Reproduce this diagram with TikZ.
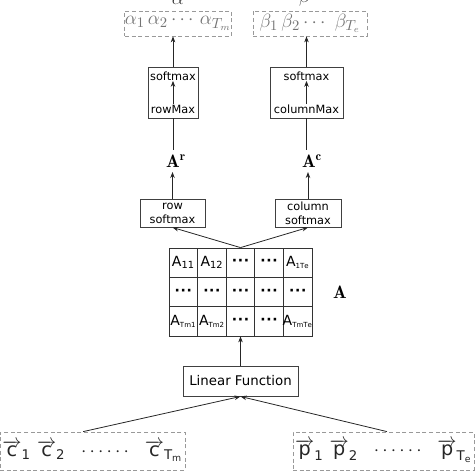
\documentclass[tikz,border=0pt]{standalone}
\usepackage{fontspec}
\setsansfont{DejaVu Sans}
\usetikzlibrary{arrows.meta}
\newcommand{\mdots}{{\sffamily\bfseries\char"B7\kern0.5pt\char"B7\kern0.5pt\char"B7}}
\begin{document}
\begin{tikzpicture}[x=0.75pt,y=-0.75pt,
  box/.style={draw=black!75,line width=0.7pt,inner sep=0pt,align=center,
    font=\sffamily\fontsize{8.5}{10.5}\selectfont},
  dbox/.style={draw=black!40,densely dashed,line width=0.6pt,inner sep=0pt},
  arr/.style={-{Stealth[length=4.5pt,width=3.4pt]},draw=black!85,line width=0.6pt},
  cell/.style={inner sep=0pt,font=\fontsize{10.5}{12}\selectfont},
  big/.style={font=\fontsize{13.5}{15}\selectfont}]
\useasboundingbox (0,0) rectangle (474,474);
%
% inputs
\node[dbox,minimum width=138.75pt,minimum height=28.5pt,text=black!85] (cin) at (92.5,451)
  {\Large$\overrightarrow{\mathsf c}_{\mathsf 1}\ \overrightarrow{\mathsf c}_{\mathsf 2}\ \ \cdots\cdots\ \ \overrightarrow{\mathsf c}_{\mathsf T_{\mathsf m}}$};
\node[dbox,minimum width=135.75pt,minimum height=28.5pt,text=black!85] (pin) at (383.5,451)
  {\Large$\overrightarrow{\mathsf p}_{\mathsf 1}\ \overrightarrow{\mathsf p}_{\mathsf 2}\ \ \cdots\cdots\ \ \overrightarrow{\mathsf p}_{\mathsf T_{\mathsf e}}$};
\node[box,minimum width=86.25pt,minimum height=22.5pt,font=\sffamily\fontsize{10}{12}\selectfont] (lin) at (240.5,381) {Linear Function};
\draw[arr] ([xshift=-7pt]cin.north) -- (lin.south);
\draw[arr] ([xshift=2.6pt]pin.north) -- (lin.south);
%
% matrix A
\node[draw=black!80,line width=0.6pt,minimum width=107.25pt,minimum height=66pt] (mat) at (240.5,292) {};
\foreach \i in {1,...,4} \draw[black!80,line width=0.6pt] (169+28.6*\i,248) -- ++(0,88);
\foreach \j in {1,2} \draw[black!80,line width=0.6pt] (169,248+29.33*\j) -- ++(143,0);
\foreach \t [count=\i] in {{$\mathsf A_{\mathsf{11}}$},{$\mathsf A_{\mathsf{12}}$},{\mdots},{\mdots},{$\mathsf A_{\scriptscriptstyle\mathsf{1Te}}$}}
  \node[cell] (ra\i) at (154.7+28.6*\i,262.7) {\t};
\foreach \i in {1,...,5}
  \node[cell] (rb\i) at (154.7+28.6*\i,292) {\mdots};
\foreach \t [count=\i] in {{$\mathsf A_{\scriptscriptstyle\mathsf{Tm1}}$},{$\mathsf A_{\scriptscriptstyle\mathsf{Tm2}}$},{\mdots},{\mdots},{$\mathsf A_{\scriptscriptstyle\mathsf{TmTe}}$}}
  \node[cell] (rc\i) at (154.7+28.6*\i,321.3) {\t};
\node[big] (Alab) at (340,292) {$\mathbf{A}$};
\draw[arr] (lin.north) -- (mat.south);
%
% row / column softmax
\node[box,minimum width=48.75pt,minimum height=21pt] (rsm) at (172.5,213) {row\\softmax};
\node[box,minimum width=49.5pt,minimum height=21pt] (csm) at (308,213) {column\\softmax};
\draw[arr] (mat.north) -- (rsm.south);
\draw[arr] (mat.north) -- (csm.south);
\node[big] (Ar) at (176,161) {$\mathbf{A}^{\mathbf{r}}$};
\node[big] (Ac) at (312,161) {$\mathbf{A}^{\mathbf{c}}$};
\draw[arr] (rsm.north) -- (rsm.north |- Ar.south);
\draw[arr] (csm.north) -- (csm.north |- Ac.south);
%
% max + softmax
\node[box,minimum width=37.5pt,minimum height=38.25pt] (bA) at (173,92.5) {};
\node[box,minimum width=54.75pt,minimum height=38.25pt] (bB) at (306.5,92.5) {};
\node[box,draw=none] (smA) at (173,76) {softmax};
\node[box,draw=none] (rmA) at (173,109) {rowMax};
\node[box,draw=none] (smB) at (306.5,76) {softmax};
\node[box,draw=none] (cmB) at (306.5,109) {columnMax};
\draw[arr] (rmA) -- (smA);
\draw[arr] (cmB) -- (smB);
\draw[black!85,line width=0.6pt] (bA.south) -- (bA.south |- Ar.north);
\draw[black!85,line width=0.6pt] (bB.south) -- (bB.south |- Ac.north);
%
% outputs
\node[dbox,minimum width=75pt,minimum height=18.75pt,text=black!55] (al) at (178,23.5)
  {\fontsize{15}{17}\selectfont$\alpha_1\,\alpha_2\cdots\,\alpha_{T_m}$};
\node[dbox,minimum width=85.5pt,minimum height=18.75pt,text=black!55] (be) at (310,23.5)
  {\fontsize{15}{17}\selectfont$\beta_1\,\beta_2\cdots\ \beta_{T_e}$};
\draw[arr] (bA.north) -- (bA.north |- al.south);
\draw[arr] (bB.north) -- (bB.north |- be.south);
\node[anchor=base,inner sep=0pt,text=black!80] (alt) at (178,5) {\fontsize{15}{17}\selectfont$\alpha$};
\node[anchor=base,inner sep=0pt,text=black!80] (bet) at (305,3) {\fontsize{15}{17}\selectfont$\beta$};
\end{tikzpicture}
\end{document}
